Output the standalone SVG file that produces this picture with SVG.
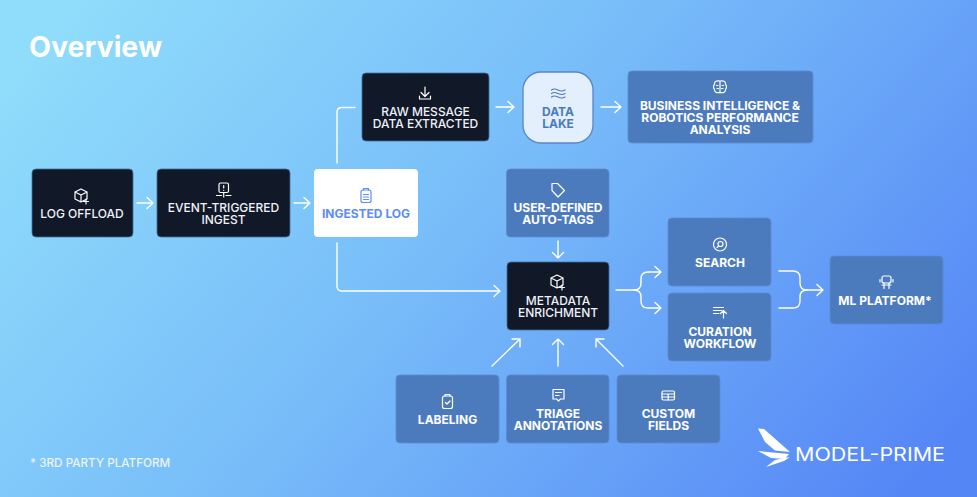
<svg xmlns="http://www.w3.org/2000/svg" width="977" height="497" viewBox="0 0 977 497">
<style>
text{font-family:Inter,"Liberation Sans",sans-serif;text-anchor:middle;font-size:12px}
.dark .card{fill:#111827;stroke:#3f6f9c;stroke-width:.8}
.dark text{fill:#eef2f7;font-weight:500}
.mid .card{fill:#4c7bbd;stroke:#5c8ad0;stroke-width:.8}
.mid text{fill:#fff;font-weight:700}
.ico{fill:none;stroke:#fff;stroke-width:1.2;stroke-linecap:round;stroke-linejoin:round}
.con path{fill:none;stroke:#fff;stroke-width:1.4;stroke-linecap:round;stroke-linejoin:round}
</style>
<defs>
<linearGradient id="bg" gradientUnits="userSpaceOnUse" x1="130" y1="-60" x2="850" y2="560">
<stop offset="0" stop-color="#8fdcfb"/><stop offset=".45" stop-color="#78bdf9"/><stop offset="1" stop-color="#5586f6"/>
</linearGradient>
<g id="cube"><path d="M-1 -7L-7 -4V3L-1 6L5 3V-4ZM-7 -4L-1 -1L5 -4M-1 -1V6"/><path d="M4 3V8M1.500 5.500H6.500"/></g>
</defs>
<rect width="977" height="497" fill="url(#bg)"/>
<text x="29" y="57" style="font-size:28.500px;font-weight:700;text-anchor:start" fill="#fff">Overview</text>
<g class="con" id="connectors">
<path d="M137 203H153M147 197.500L153 203L147 208.500"/>
<path d="M294 203H310M304 197.500L310 203L304 208.500"/>
<path d="M337 163V112Q337 107.500 342 107.500H355"/>
<path d="M337 243V286Q337 291 342 291H500M494 285.500L500 291L494 296.500"/>
<path d="M496 107H514M508 101.500L514 107L508 112.500"/>
<path d="M601 107H621M615 101.500L621 107L615 112.500"/>
<path d="M558 241V258M552.500 252.500L558 258L563.500 252.500"/>
<path d="M616 290H634Q641 290 641 283V279Q641 272 648 272H661M655 266.500L661 272L655 277.500"/>
<path d="M634 290Q641 290 641 297V301Q641 308 648 308H661M655 302.500L661 308L655 313.500"/>
<path d="M779 271H793Q800 271 800 278V283Q800 290 807 290H823M817 284.500L823 290L817 295.500"/>
<path d="M779 308H793Q800 308 800 301V297Q800 290 807 290"/>
<path d="M492 366L520 339M512 339H520V347"/>
<path d="M558 366V339M552.500 344.500L558 339L563.500 344.500"/>
<path d="M623 366L596 339M604 339H596V347"/>
</g>
<g id="log-offload" class="dark"><rect class="card" x="32" y="169" width="101" height="68" rx="4"/>
<use href="#cube" x="82" y="196" class="ico"/><text x="82" y="217.500">LOG OFFLOAD</text></g>
<g id="event-ingest" class="dark"><rect class="card" x="157" y="169" width="133" height="68" rx="4"/>
<g class="ico"><rect x="219" y="183" width="9.500" height="9.500" rx="1.500"/><path d="M223.700 185.500V188M223.700 190.300V190.400M223.700 192.500V197M216.500 195.500H221.500M226 195.500H231"/></g>
<text x="223.500" y="211.500">EVENT-TRIGGERED<tspan x="223.500" dy="12">INGEST</tspan></text></g>
<g id="ingested-log"><rect x="314" y="169" width="104" height="68" rx="4" fill="#fff"/>
<g class="ico" style="stroke:#5b8df5"><rect x="361" y="190" width="10" height="12.500" rx="2"/><path d="M363.500 190V188.500H368.500V190M363.500 194.500H368.500M363.500 197H368.500M363.500 199.500H368.500"/></g>
<text x="366" y="217.500" fill="#5b8df5" style="font-weight:700">INGESTED LOG</text></g>
<g id="raw-message" class="dark"><rect class="card" x="362" y="73" width="127" height="68" rx="4"/>
<g class="ico"><path d="M425 87V96M421 92.500L425 96.500L429 92.500M419.500 96V99H430.500V96"/></g>
<text x="425.500" y="115.500">RAW MESSAGE<tspan x="425.500" dy="12">DATA EXTRACTED</tspan></text></g>
<g id="data-lake"><rect x="523" y="72" width="70" height="71" rx="18" fill="#e3effd" stroke="#5b86c7" stroke-width="1.300"/>
<g class="ico" style="stroke:#4c7bbd"><path d="M551.500 90Q554 88 558 90T565 90M551.500 93.500Q554 91.500 558 93.500T565 93.500M551.500 97Q554 95 558 97T565 97"/></g>
<text x="558" y="115.500" fill="#4c7bbd" style="font-weight:700">DATA<tspan x="558" dy="12">LAKE</tspan></text></g>
<g id="business-intelligence" class="mid"><rect class="card" x="628" y="71" width="185" height="72" rx="4"/>
<g class="ico"><path d="M720 81Q714.500 80 714.500 84Q712.500 87 714.500 89.500Q714.500 93.500 720 92.500ZM720 81Q725.500 80 725.500 84Q727.500 87 725.500 89.500Q725.500 93.500 720 92.500ZM716.500 85.500H718M722 85.500H723.500M717 88.500H718.500M721.500 88.500H723"/></g>
<text x="720" y="109.500">BUSINESS INTELLIGENCE &amp;<tspan x="720" dy="12">ROBOTICS PERFORMANCE</tspan><tspan x="720" dy="12">ANALYSIS</tspan></text></g>
<g id="user-auto-tags" class="mid"><rect class="card" x="506.500" y="169" width="102.500" height="68" rx="4"/>
<g class="ico"><path d="M552 183.500H557.500L564.500 190.500L558 197L552 190.500Z"/></g>
<text x="558" y="211.500">USER-DEFINED<tspan x="558" dy="12">AUTO-TAGS</tspan></text></g>
<g id="metadata-enrichment" class="dark"><rect class="card" x="507" y="262" width="102" height="68" rx="4"/>
<use href="#cube" x="558" y="282" class="ico"/><text x="558" y="304.500">METADATA<tspan x="558" dy="12">ENRICHMENT</tspan></text></g>
<g id="search" class="mid"><rect class="card" x="668" y="218" width="103" height="68" rx="4"/>
<g class="ico"><circle cx="720" cy="244.500" r="6.500"/><circle cx="720.500" cy="244" r="2.500"/><path d="M718.700 245.800L717 247.500"/></g>
<text x="720" y="266.500">SEARCH</text></g>
<g id="curation-workflow" class="mid"><rect class="card" x="668" y="293" width="103" height="68" rx="4"/>
<g class="ico"><path d="M713.500 307.500H723.500M713.500 310.500H721.500M713.500 313.500H719M723.500 318V311M720.500 313.500L723.500 310.500L726.500 313.500"/></g>
<text x="720" y="335.500">CURATION<tspan x="720" dy="12">WORKFLOW</tspan></text></g>
<g id="ml-platform" class="mid"><rect class="card" x="830" y="256" width="113" height="68" rx="4"/>
<g class="ico"><rect x="882" y="276" width="9" height="7" rx="2"/><path d="M884 283V288.500M889 283V288.500M882 285H891M880 279.500V282M893 279.500V282"/></g>
<text x="885" y="304.500">ML PLATFORM*</text></g>
<g id="labeling" class="mid"><rect class="card" x="396" y="375" width="103" height="68" rx="4"/>
<g class="ico"><rect x="442.500" y="396" width="10" height="12.500" rx="2"/><path d="M445 396V394.500H450V396M445.500 402.500L447 404L450 401"/></g>
<text x="447.500" y="423.500">LABELING</text></g>
<g id="triage-annotations" class="mid"><rect class="card" x="506.500" y="375" width="102.500" height="68" rx="4"/>
<g class="ico"><path d="M553 389.500H564V399H560.500L558.500 401L556.500 399H553ZM555.500 392.500H561.500M555.500 395.500H559"/></g>
<text x="558" y="417.500">TRIAGE<tspan x="558" dy="12">ANNOTATIONS</tspan></text></g>
<g id="custom-fields" class="mid"><rect class="card" x="617" y="375" width="103" height="68" rx="4"/>
<g class="ico"><rect x="662" y="391" width="12.500" height="9" rx="1.500"/><path d="M662 394H674.500M662 397H674.500M668.200 394V400"/></g>
<text x="668.500" y="417.500">CUSTOM<tspan x="668.500" dy="12">FIELDS</tspan></text></g>
<text x="30" y="466.500" fill="#eaf3ff" style="font-size:11.700px;font-weight:500;text-anchor:start">* 3RD PARTY PLATFORM</text>
<g id="logo" fill="#fff"><path d="M758 428.500L764 429L790 452L775 450.500L765 442Z"/><path d="M758 451L789 454L785 459L771 458Z"/><path d="M790 457L784 461L766 467L775 460Z"/>
<text x="795" y="461" textLength="150" lengthAdjust="spacingAndGlyphs" style="font-size:18.500px;font-weight:400;text-anchor:start">MODEL-PRIME</text></g>
</svg>
